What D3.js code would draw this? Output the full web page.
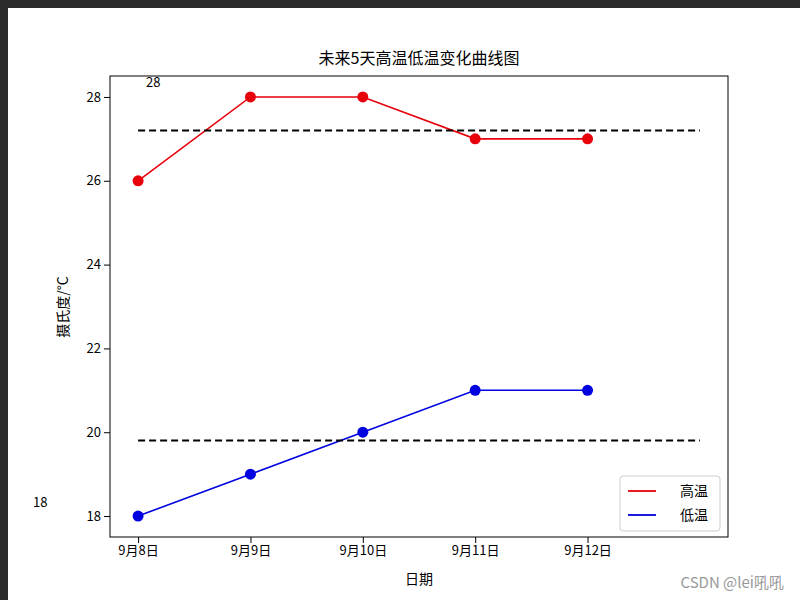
<!DOCTYPE html>
<html><head><meta charset="utf-8">
<script src="https://cdn.jsdelivr.net/npm/d3@7"></script>
<style>body{margin:0;background:#fff}text{font-family:"Noto Sans CJK SC","DejaVu Sans",sans-serif}</style>
</head><body><svg id="c" width="800" height="600"></svg>
<script>
const days = ['9月8日', '9月9日', '9月10日', '9月11日', '9月12日'];
const highs = [26, 28, 28, 27, 27];
const lows = [18, 19, 20, 21, 21];
const yTicks = [18, 20, 22, 24, 26, 28];

const svg = d3.select('#c');
svg.append('rect').attr('width', 800).attr('height', 600).attr('fill', '#2b2b2b');
svg.append('rect').attr('x', 8).attr('y', 8).attr('width', 792).attr('height', 592).attr('fill', '#fff');

const L = 110, R = 728, T = 76, B = 537;
const x = d3.scaleLinear().domain([-0.25, 5.25]).range([L, R]);
const y = d3.scaleLinear().domain([17.5, 28.5]).range([B, T]);

const xa = svg.append('g').attr('transform', `translate(0,${B})`)
  .call(d3.axisBottom(x).tickValues(d3.range(days.length)).tickFormat(i => days[i]).tickSizeOuter(0));
const ya = svg.append('g').attr('transform', `translate(${L},0)`)
  .call(d3.axisLeft(y).tickValues(yTicks).tickSizeOuter(0));
[xa, ya].forEach(a => {
  a.select('.domain').remove();
  a.selectAll('text').attr('font-size', 13).attr('fill', '#000');
  a.selectAll('line').attr('stroke', '#000');
});
svg.append('rect').attr('x', L).attr('y', T).attr('width', R - L).attr('height', B - T)
  .attr('fill', 'none').attr('stroke', '#000');

const line = d3.line().x((d, i) => x(i)).y(d => y(d));
[[highs, '#e8000b'], [lows, '#0000e0']].forEach(([data, c]) => {
  svg.append('path').datum(data).attr('d', line).attr('fill', 'none').attr('stroke', c).attr('stroke-width', 1.6);
  svg.selectAll(null).data(data).enter().append('circle')
    .attr('cx', (d, i) => x(i)).attr('cy', d => y(d)).attr('r', 5.5).attr('fill', c);
});

[d3.mean(highs), d3.mean(lows)].forEach(m => {
  svg.append('line').attr('x1', x(0)).attr('x2', x(5)).attr('y1', y(m)).attr('y2', y(m))
    .attr('stroke', '#000').attr('stroke-width', 2).attr('stroke-dasharray', '7,4');
});

svg.append('text').attr('x', 146).attr('y', 87).attr('font-size', 13).text(d3.max(highs));
svg.append('text').attr('x', 33).attr('y', 507).attr('font-size', 13).text(d3.min(lows));

svg.append('text').attr('x', 419).attr('y', 64).attr('text-anchor', 'middle').attr('font-size', 16).text('未来5天高温低温变化曲线图');
svg.append('text').attr('x', 419).attr('y', 584).attr('text-anchor', 'middle').attr('font-size', 14).text('日期');
svg.append('text').attr('transform', 'translate(68,307) rotate(-90)').attr('text-anchor', 'middle').attr('font-size', 14).text('摄氏度/°C');

const lg = svg.append('g');
lg.append('rect').attr('x', 620).attr('y', 476).attr('width', 100).attr('height', 55).attr('rx', 3)
  .attr('fill', '#fff').attr('stroke', '#ccc');
[['高温', '#e8000b'], ['低温', '#0000e0']].forEach(([t, c], i) => {
  const yy = 491 + i * 24;
  lg.append('line').attr('x1', 628).attr('x2', 656).attr('y1', yy).attr('y2', yy).attr('stroke', c).attr('stroke-width', 1.8);
  lg.append('text').attr('x', 680).attr('y', yy + 5).attr('font-size', 14).text(t);
});

svg.append('text').attr('x', 784).attr('y', 588).attr('text-anchor', 'end').attr('font-size', 15).attr('fill', '#999').text('CSDN @lei吼吼');
</script></body></html>
